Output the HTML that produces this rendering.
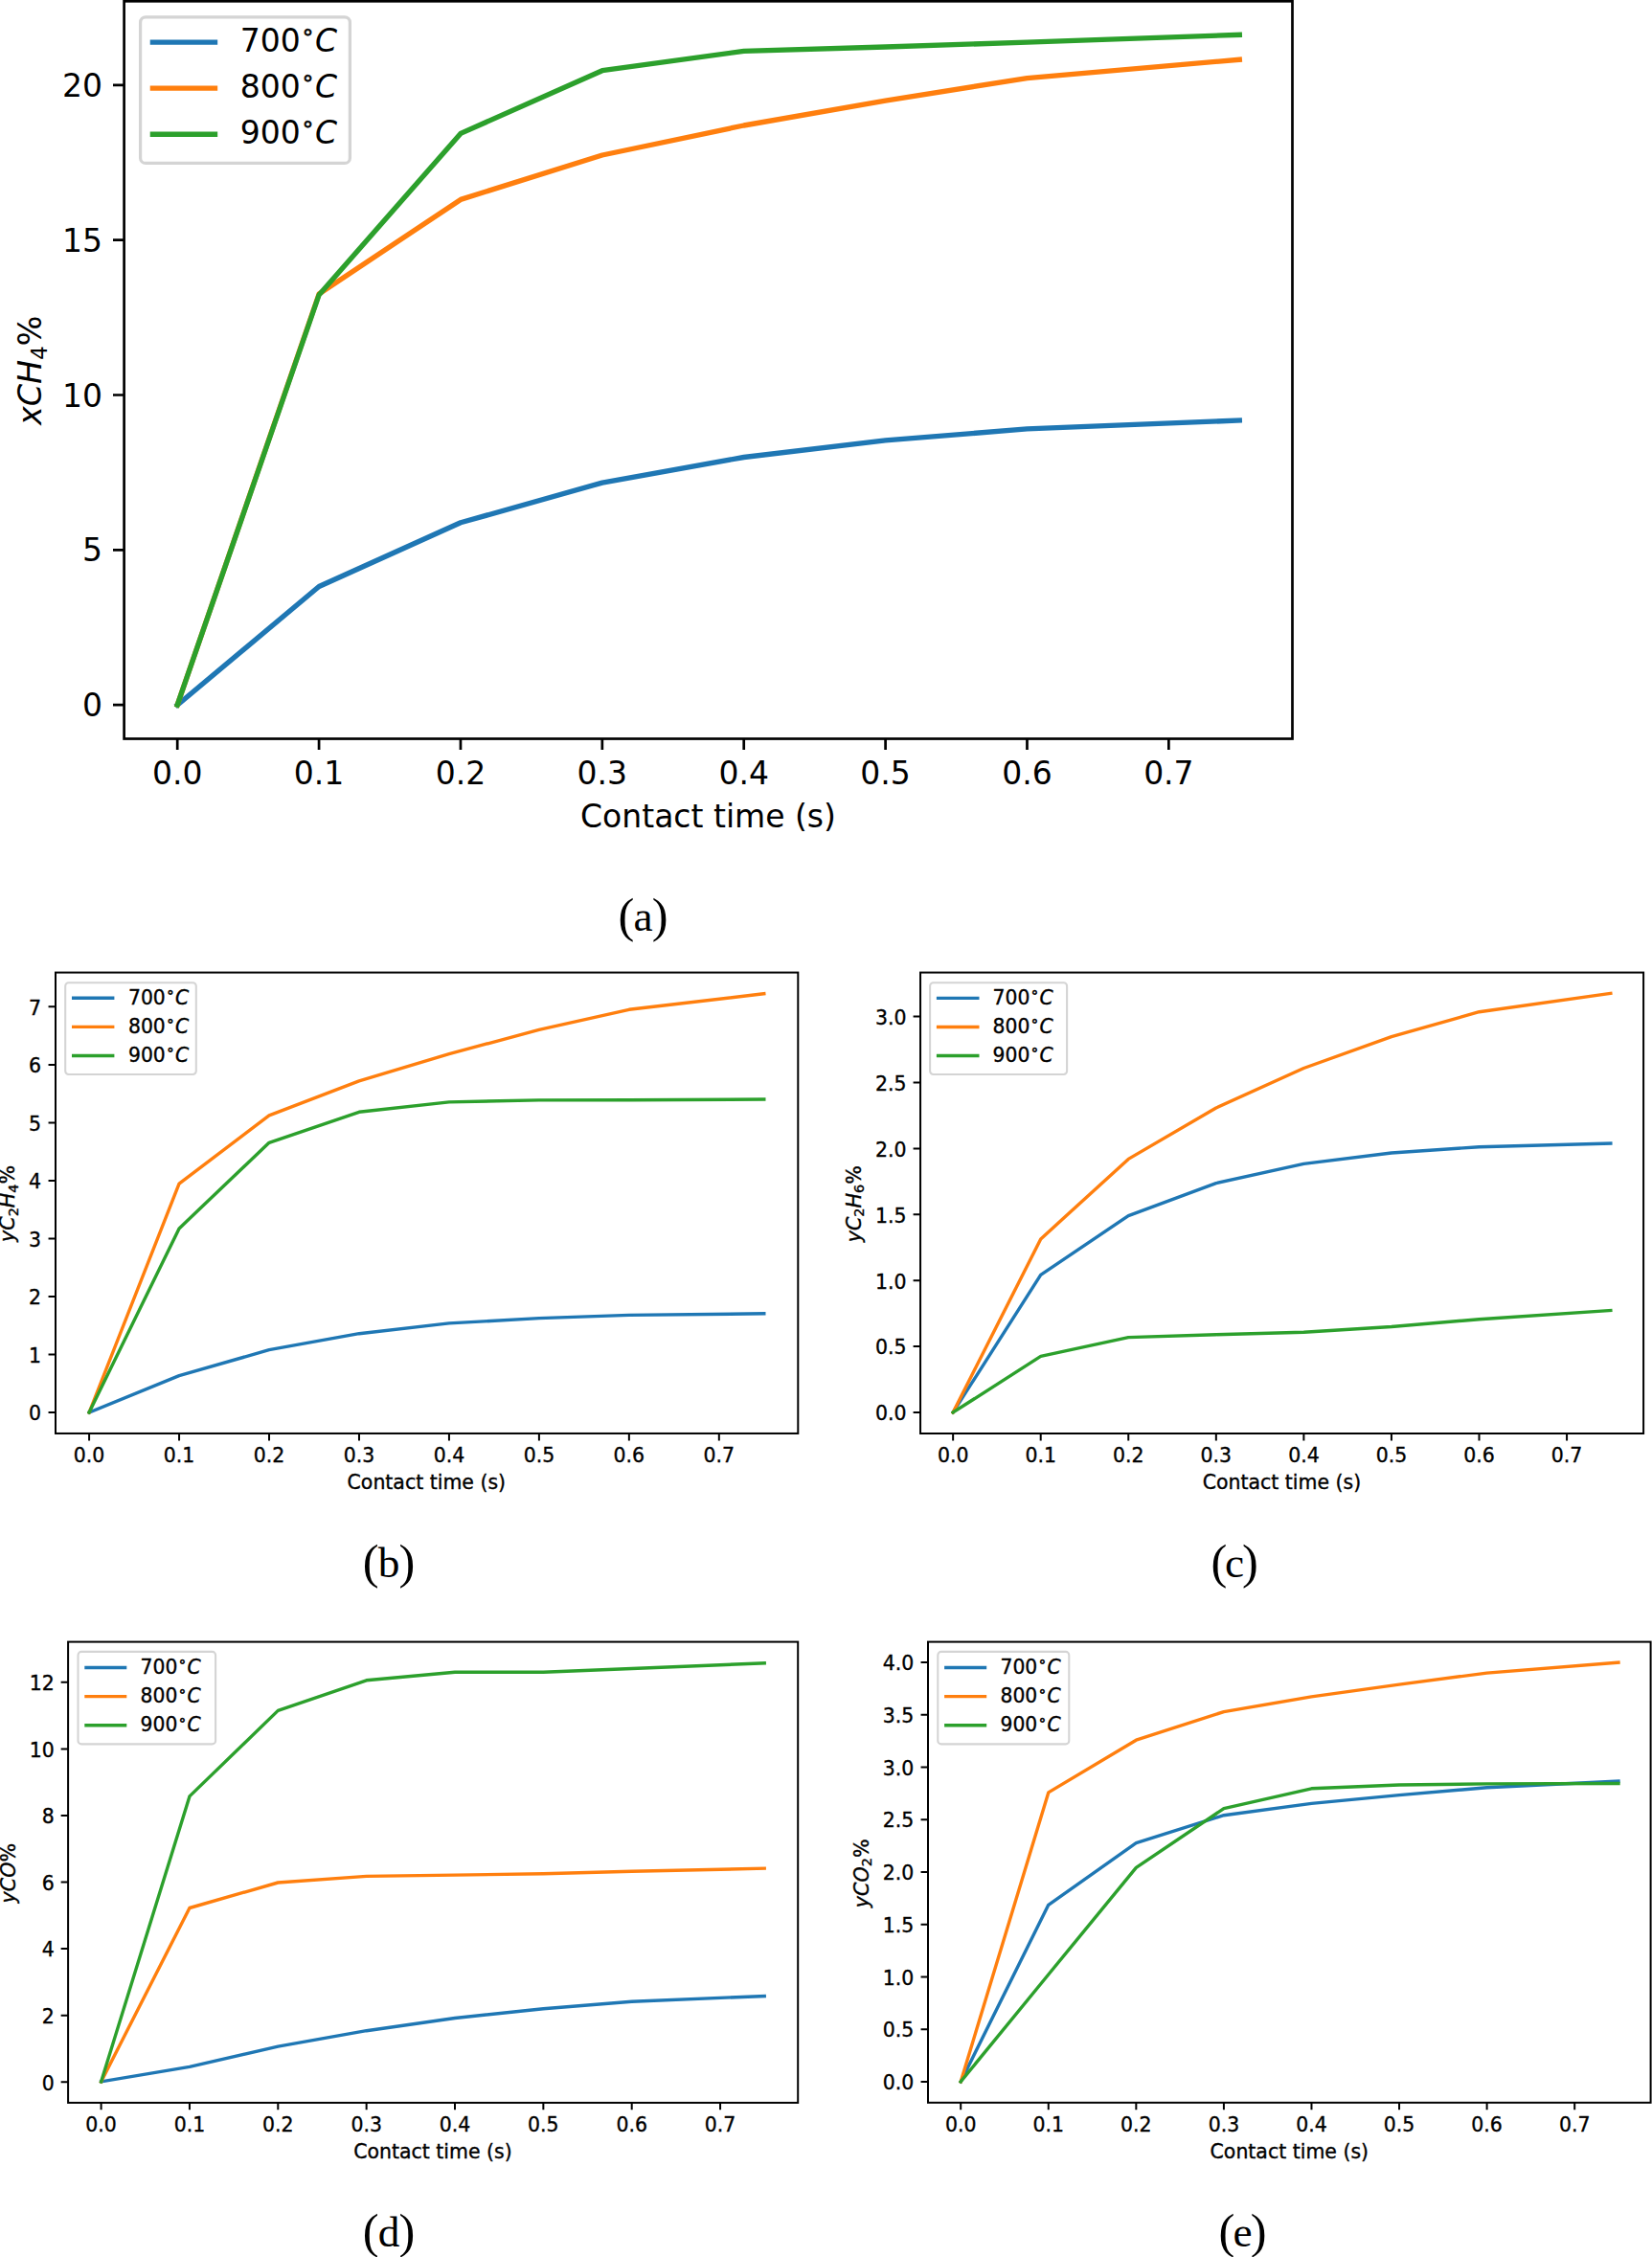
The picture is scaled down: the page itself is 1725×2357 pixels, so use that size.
<!DOCTYPE html>
<html lang="en"><head><meta charset="utf-8"><title>Contact time figures</title>
<style>html,body{margin:0;padding:0;background:#fff;overflow:hidden}svg{display:block}</style></head>
<body><svg width="1725" height="2357" viewBox="0 0 1725 2357">
<rect width="1725" height="2357" fill="#fff"/>
<g font-family="'DejaVu Sans','Liberation Sans',sans-serif" font-size="33" fill="#000">
<polyline points="185.2,736.2 333.08,612.5 480.96,545.8 628.84,504.1 776.72,477.5 924.6,459.9 1072.48,447.9 1294.3,439" fill="none" stroke="#1f77b4" stroke-width="5.35" stroke-linecap="square" stroke-linejoin="round"/>
<polyline points="185.2,736.2 333.08,307 480.96,208.4 628.84,162 776.72,131 924.6,105.1 1072.48,81.6 1294.3,62.2" fill="none" stroke="#ff7f0e" stroke-width="5.35" stroke-linecap="square" stroke-linejoin="round"/>
<polyline points="185.2,736.2 333.08,308 480.96,139.4 628.84,73.7 776.72,53.4 924.6,49 1072.48,44.1 1294.3,36.3" fill="none" stroke="#2ca02c" stroke-width="5.35" stroke-linecap="square" stroke-linejoin="round"/>
<path d="M185.2 771.5 v11.6 M333.08 771.5 v11.6 M480.96 771.5 v11.6 M628.84 771.5 v11.6 M776.72 771.5 v11.6 M924.6 771.5 v11.6 M1072.48 771.5 v11.6 M1220.36 771.5 v11.6 M129.6 736.2 h-11.6 M129.6 574.35 h-11.6 M129.6 412.5 h-11.6 M129.6 250.65 h-11.6 M129.6 88.8 h-11.6" stroke="#000" stroke-width="2.7" fill="none"/>
<rect x="129.6" y="1.3" width="1219.9" height="770.2" fill="none" stroke="#000" stroke-width="2.7"/>
<g text-anchor="middle">
<text transform="translate(185.2 818.5)">0.0</text>
<text transform="translate(333.08 818.5)">0.1</text>
<text transform="translate(480.96 818.5)">0.2</text>
<text transform="translate(628.84 818.5)">0.3</text>
<text transform="translate(776.72 818.5)">0.4</text>
<text transform="translate(924.6 818.5)">0.5</text>
<text transform="translate(1072.48 818.5)">0.6</text>
<text transform="translate(1220.36 818.5)">0.7</text>
</g>
<g text-anchor="end">
<text transform="translate(107 748.2)">0</text>
<text transform="translate(107 586.35)">5</text>
<text transform="translate(107 424.5)">10</text>
<text transform="translate(107 262.65)">15</text>
<text transform="translate(107 100.8)">20</text>
</g>
<text transform="translate(739.5 863.8)" text-anchor="middle">Contact time (s)</text>
<text transform="translate(43.4 386.8) rotate(-90) scale(1.0100 1.0100)" text-anchor="middle"><tspan font-style="oblique">xCH</tspan><tspan font-size="23.1" dy="5.45">4</tspan><tspan dy="-5.45">%</tspan></text>
<rect x="146.6" y="17.9" width="218.8" height="152.5" rx="5.5" fill="#fff" fill-opacity="0.8" stroke="#d4d4d4" stroke-width="3.25"/>
<path d="M159.4 44.1 H224.5" stroke="#1f77b4" stroke-width="5.35" stroke-linecap="square" fill="none"/>
<text transform="translate(250.8 53.7)">700<tspan font-size="23.1" dx="0.49" dy="-13.2" stroke="#000" stroke-width="0.6">&#8728;</tspan><tspan font-style="oblique" dx="0.32" dy="13.2">C</tspan></text>
<path d="M159.4 92.1 H224.5" stroke="#ff7f0e" stroke-width="5.35" stroke-linecap="square" fill="none"/>
<text transform="translate(250.8 101.7)">800<tspan font-size="23.1" dx="0.49" dy="-13.2" stroke="#000" stroke-width="0.6">&#8728;</tspan><tspan font-style="oblique" dx="0.32" dy="13.2">C</tspan></text>
<path d="M159.4 140.2 H224.5" stroke="#2ca02c" stroke-width="5.35" stroke-linecap="square" fill="none"/>
<text transform="translate(250.8 149.8)">900<tspan font-size="23.1" dx="0.49" dy="-13.2" stroke="#000" stroke-width="0.6">&#8728;</tspan><tspan font-style="oblique" dx="0.32" dy="13.2">C</tspan></text>
</g>
<g font-family="'DejaVu Sans','Liberation Sans',sans-serif" font-size="20.3" fill="#000" stroke="#000" stroke-width="0.35">
<polyline points="93.1,1475 187.06,1436.6 281.02,1409.7 374.98,1392.7 468.94,1381.9 562.9,1376.6 656.86,1373.4 797.8,1371.8" fill="none" stroke="#1f77b4" stroke-width="3.4" stroke-linecap="square" stroke-linejoin="round"/>
<polyline points="93.1,1475 187.06,1236.1 281.02,1164.9 374.98,1128.8 468.94,1100.7 562.9,1075.3 656.86,1054.3 797.8,1037.7" fill="none" stroke="#ff7f0e" stroke-width="3.4" stroke-linecap="square" stroke-linejoin="round"/>
<polyline points="93.1,1475 187.06,1282.9 281.02,1193.3 374.98,1161.3 468.94,1150.9 562.9,1148.9 656.86,1148.8 797.8,1148" fill="none" stroke="#2ca02c" stroke-width="3.4" stroke-linecap="square" stroke-linejoin="round"/>
<path d="M93.1 1496.95 v7.45 M187.06 1496.95 v7.45 M281.02 1496.95 v7.45 M374.98 1496.95 v7.45 M468.94 1496.95 v7.45 M562.9 1496.95 v7.45 M656.86 1496.95 v7.45 M750.82 1496.95 v7.45 M58 1475 h-7.45 M58 1414.48 h-7.45 M58 1353.96 h-7.45 M58 1293.44 h-7.45 M58 1232.92 h-7.45 M58 1172.4 h-7.45 M58 1111.88 h-7.45 M58 1051.36 h-7.45" stroke="#000" stroke-width="2" fill="none"/>
<rect x="58" y="1015.6" width="775.3" height="481.35" fill="none" stroke="#000" stroke-width="2"/>
<g text-anchor="middle">
<text transform="translate(93.1 1527.1) scale(1.0080 1.0200)">0.0</text>
<text transform="translate(187.06 1527.1) scale(1.0080 1.0200)">0.1</text>
<text transform="translate(281.02 1527.1) scale(1.0080 1.0200)">0.2</text>
<text transform="translate(374.98 1527.1) scale(1.0080 1.0200)">0.3</text>
<text transform="translate(468.94 1527.1) scale(1.0080 1.0200)">0.4</text>
<text transform="translate(562.9 1527.1) scale(1.0080 1.0200)">0.5</text>
<text transform="translate(656.86 1527.1) scale(1.0080 1.0200)">0.6</text>
<text transform="translate(750.82 1527.1) scale(1.0080 1.0200)">0.7</text>
</g>
<g text-anchor="end">
<text transform="translate(43.05 1483.3) scale(1.0080 1.0200)">0</text>
<text transform="translate(43.05 1422.78) scale(1.0080 1.0200)">1</text>
<text transform="translate(43.05 1362.26) scale(1.0080 1.0200)">2</text>
<text transform="translate(43.05 1301.74) scale(1.0080 1.0200)">3</text>
<text transform="translate(43.05 1241.22) scale(1.0080 1.0200)">4</text>
<text transform="translate(43.05 1180.7) scale(1.0080 1.0200)">5</text>
<text transform="translate(43.05 1120.18) scale(1.0080 1.0200)">6</text>
<text transform="translate(43.05 1059.66) scale(1.0080 1.0200)">7</text>
</g>
<text transform="translate(445.3 1555) scale(1.0080 1.0200)" text-anchor="middle">Contact time (s)</text>
<text transform="translate(15.3 1256.9) rotate(-90) scale(1.0180 1.0200)" text-anchor="middle"><tspan font-style="oblique">yC</tspan><tspan font-size="14.21" dy="3.35">2</tspan><tspan font-style="oblique" dy="-3.35">H</tspan><tspan font-size="14.21" dy="3.35">4</tspan><tspan dy="-3.35">%</tspan></text>
<rect x="68.2" y="1026.2" width="136.6" height="95.8" rx="3.5" fill="#fff" fill-opacity="0.8" stroke="#d4d4d4" stroke-width="2.07"/>
<path d="M76.7 1042.3 H117.7" stroke="#1f77b4" stroke-width="3.4" stroke-linecap="square" fill="none"/>
<text transform="translate(134 1048.5) scale(1.0000 1.0480)">700<tspan font-size="14.21" dx="0.7" dy="-7.1" stroke="#000" stroke-width="0.6">&#8728;</tspan><tspan font-style="oblique" dx="0.69" dy="7.1">C</tspan></text>
<path d="M76.7 1072.4 H117.7" stroke="#ff7f0e" stroke-width="3.4" stroke-linecap="square" fill="none"/>
<text transform="translate(134 1078.6) scale(1.0000 1.0480)">800<tspan font-size="14.21" dx="0.7" dy="-7.1" stroke="#000" stroke-width="0.6">&#8728;</tspan><tspan font-style="oblique" dx="0.69" dy="7.1">C</tspan></text>
<path d="M76.7 1102.5 H117.7" stroke="#2ca02c" stroke-width="3.4" stroke-linecap="square" fill="none"/>
<text transform="translate(134 1108.7) scale(1.0000 1.0480)">900<tspan font-size="14.21" dx="0.7" dy="-7.1" stroke="#000" stroke-width="0.6">&#8728;</tspan><tspan font-style="oblique" dx="0.69" dy="7.1">C</tspan></text>
</g>
<g font-family="'DejaVu Sans','Liberation Sans',sans-serif" font-size="20.3" fill="#000" stroke="#000" stroke-width="0.35">
<polyline points="995.15,1475 1086.71,1331.4 1178.27,1269.6 1269.83,1235.6 1361.39,1215.4 1452.95,1204 1544.51,1197.7 1681.85,1194.1" fill="none" stroke="#1f77b4" stroke-width="3.4" stroke-linecap="square" stroke-linejoin="round"/>
<polyline points="995.15,1475 1086.71,1293.9 1178.27,1210.4 1269.83,1157 1361.39,1115.5 1452.95,1082.6 1544.51,1056.7 1681.85,1037.3" fill="none" stroke="#ff7f0e" stroke-width="3.4" stroke-linecap="square" stroke-linejoin="round"/>
<polyline points="995.15,1475 1086.71,1416.4 1178.27,1396.6 1269.83,1393.7 1361.39,1391.2 1452.95,1385.5 1544.51,1377.7 1681.85,1368.5" fill="none" stroke="#2ca02c" stroke-width="3.4" stroke-linecap="square" stroke-linejoin="round"/>
<path d="M995.15 1497 v7.45 M1086.71 1497 v7.45 M1178.27 1497 v7.45 M1269.83 1497 v7.45 M1361.39 1497 v7.45 M1452.95 1497 v7.45 M1544.51 1497 v7.45 M1636.07 1497 v7.45 M961.05 1475 h-7.45 M961.05 1406.1 h-7.45 M961.05 1337.2 h-7.45 M961.05 1268.3 h-7.45 M961.05 1199.4 h-7.45 M961.05 1130.5 h-7.45 M961.05 1061.6 h-7.45" stroke="#000" stroke-width="2" fill="none"/>
<rect x="961.05" y="1015.6" width="755.05" height="481.4" fill="none" stroke="#000" stroke-width="2"/>
<g text-anchor="middle">
<text transform="translate(995.15 1527.1) scale(1.0080 1.0200)">0.0</text>
<text transform="translate(1086.71 1527.1) scale(1.0080 1.0200)">0.1</text>
<text transform="translate(1178.27 1527.1) scale(1.0080 1.0200)">0.2</text>
<text transform="translate(1269.83 1527.1) scale(1.0080 1.0200)">0.3</text>
<text transform="translate(1361.39 1527.1) scale(1.0080 1.0200)">0.4</text>
<text transform="translate(1452.95 1527.1) scale(1.0080 1.0200)">0.5</text>
<text transform="translate(1544.51 1527.1) scale(1.0080 1.0200)">0.6</text>
<text transform="translate(1636.07 1527.1) scale(1.0080 1.0200)">0.7</text>
</g>
<g text-anchor="end">
<text transform="translate(946.45 1483.3) scale(1.0080 1.0200)">0.0</text>
<text transform="translate(946.45 1414.4) scale(1.0080 1.0200)">0.5</text>
<text transform="translate(946.45 1345.5) scale(1.0080 1.0200)">1.0</text>
<text transform="translate(946.45 1276.6) scale(1.0080 1.0200)">1.5</text>
<text transform="translate(946.45 1207.7) scale(1.0080 1.0200)">2.0</text>
<text transform="translate(946.45 1138.8) scale(1.0080 1.0200)">2.5</text>
<text transform="translate(946.45 1069.9) scale(1.0080 1.0200)">3.0</text>
</g>
<text transform="translate(1338.4 1555) scale(1.0080 1.0200)" text-anchor="middle">Contact time (s)</text>
<text transform="translate(898.5 1257.2) rotate(-90) scale(1.0180 1.0200)" text-anchor="middle"><tspan font-style="oblique">yC</tspan><tspan font-size="14.21" dy="3.35">2</tspan><tspan font-style="oblique" dy="-3.35">H</tspan><tspan font-size="14.21" dy="3.35">6</tspan><tspan dy="-3.35">%</tspan></text>
<rect x="971.1" y="1026.2" width="143" height="95.8" rx="3.5" fill="#fff" fill-opacity="0.8" stroke="#d4d4d4" stroke-width="2.07"/>
<path d="M979.6 1042.4 H1020.8" stroke="#1f77b4" stroke-width="3.4" stroke-linecap="square" fill="none"/>
<text transform="translate(1036.6 1048.6) scale(1.0000 1.0480)">700<tspan font-size="14.21" dx="0.7" dy="-7.1" stroke="#000" stroke-width="0.6">&#8728;</tspan><tspan font-style="oblique" dx="0.69" dy="7.1">C</tspan></text>
<path d="M979.6 1072.5 H1020.8" stroke="#ff7f0e" stroke-width="3.4" stroke-linecap="square" fill="none"/>
<text transform="translate(1036.6 1078.7) scale(1.0000 1.0480)">800<tspan font-size="14.21" dx="0.7" dy="-7.1" stroke="#000" stroke-width="0.6">&#8728;</tspan><tspan font-style="oblique" dx="0.69" dy="7.1">C</tspan></text>
<path d="M979.6 1102.5 H1020.8" stroke="#2ca02c" stroke-width="3.4" stroke-linecap="square" fill="none"/>
<text transform="translate(1036.6 1108.7) scale(1.0000 1.0480)">900<tspan font-size="14.21" dx="0.7" dy="-7.1" stroke="#000" stroke-width="0.6">&#8728;</tspan><tspan font-style="oblique" dx="0.69" dy="7.1">C</tspan></text>
</g>
<g font-family="'DejaVu Sans','Liberation Sans',sans-serif" font-size="20.3" fill="#000" stroke="#000" stroke-width="0.35">
<polyline points="105.6,2173.9 197.95,2158.4 290.3,2137.1 382.65,2120.7 475,2107.5 567.35,2097.7 659.7,2090.2 798.23,2084.5" fill="none" stroke="#1f77b4" stroke-width="3.4" stroke-linecap="square" stroke-linejoin="round"/>
<polyline points="105.6,2173.9 197.95,1992.5 290.3,1966 382.65,1959.4 475,1958.1 567.35,1956.8 659.7,1954.3 798.23,1951.2" fill="none" stroke="#ff7f0e" stroke-width="3.4" stroke-linecap="square" stroke-linejoin="round"/>
<polyline points="105.6,2173.9 197.95,1875.9 290.3,1786.4 382.65,1754.8 475,1746.3 567.35,1746.3 659.7,1742.5 798.23,1736.8" fill="none" stroke="#2ca02c" stroke-width="3.4" stroke-linecap="square" stroke-linejoin="round"/>
<path d="M105.6 2195.9 v7.45 M197.95 2195.9 v7.45 M290.3 2195.9 v7.45 M382.65 2195.9 v7.45 M475 2195.9 v7.45 M567.35 2195.9 v7.45 M659.7 2195.9 v7.45 M752.05 2195.9 v7.45 M71.1 2174.2 h-7.45 M71.1 2104.64 h-7.45 M71.1 2035.08 h-7.45 M71.1 1965.52 h-7.45 M71.1 1895.96 h-7.45 M71.1 1826.4 h-7.45 M71.1 1756.84 h-7.45" stroke="#000" stroke-width="2" fill="none"/>
<rect x="71.1" y="1714.6" width="762.1" height="481.3" fill="none" stroke="#000" stroke-width="2"/>
<g text-anchor="middle">
<text transform="translate(105.6 2225.9) scale(1.0080 1.0200)">0.0</text>
<text transform="translate(197.95 2225.9) scale(1.0080 1.0200)">0.1</text>
<text transform="translate(290.3 2225.9) scale(1.0080 1.0200)">0.2</text>
<text transform="translate(382.65 2225.9) scale(1.0080 1.0200)">0.3</text>
<text transform="translate(475 2225.9) scale(1.0080 1.0200)">0.4</text>
<text transform="translate(567.35 2225.9) scale(1.0080 1.0200)">0.5</text>
<text transform="translate(659.7 2225.9) scale(1.0080 1.0200)">0.6</text>
<text transform="translate(752.05 2225.9) scale(1.0080 1.0200)">0.7</text>
</g>
<g text-anchor="end">
<text transform="translate(56.75 2182.5) scale(1.0080 1.0200)">0</text>
<text transform="translate(56.75 2112.94) scale(1.0080 1.0200)">2</text>
<text transform="translate(56.75 2043.38) scale(1.0080 1.0200)">4</text>
<text transform="translate(56.75 1973.82) scale(1.0080 1.0200)">6</text>
<text transform="translate(56.75 1904.26) scale(1.0080 1.0200)">8</text>
<text transform="translate(56.75 1834.7) scale(1.0080 1.0200)">10</text>
<text transform="translate(56.75 1765.14) scale(1.0080 1.0200)">12</text>
</g>
<text transform="translate(451.9 2253.8) scale(1.0080 1.0200)" text-anchor="middle">Contact time (s)</text>
<text transform="translate(15.5 1956.2) rotate(-90) scale(1.0180 1.0200)" text-anchor="middle"><tspan font-style="oblique">yCO</tspan><tspan>%</tspan></text>
<rect x="81.5" y="1724.9" width="143.6" height="96.5" rx="3.5" fill="#fff" fill-opacity="0.8" stroke="#d4d4d4" stroke-width="2.07"/>
<path d="M90 1741.5 H130.6" stroke="#1f77b4" stroke-width="3.4" stroke-linecap="square" fill="none"/>
<text transform="translate(146.6 1747.9) scale(1.0000 1.0480)">700<tspan font-size="14.21" dx="0.7" dy="-7.1" stroke="#000" stroke-width="0.6">&#8728;</tspan><tspan font-style="oblique" dx="0.69" dy="7.1">C</tspan></text>
<path d="M90 1771.6 H130.6" stroke="#ff7f0e" stroke-width="3.4" stroke-linecap="square" fill="none"/>
<text transform="translate(146.6 1778) scale(1.0000 1.0480)">800<tspan font-size="14.21" dx="0.7" dy="-7.1" stroke="#000" stroke-width="0.6">&#8728;</tspan><tspan font-style="oblique" dx="0.69" dy="7.1">C</tspan></text>
<path d="M90 1801.7 H130.6" stroke="#2ca02c" stroke-width="3.4" stroke-linecap="square" fill="none"/>
<text transform="translate(146.6 1808.1) scale(1.0000 1.0480)">900<tspan font-size="14.21" dx="0.7" dy="-7.1" stroke="#000" stroke-width="0.6">&#8728;</tspan><tspan font-style="oblique" dx="0.69" dy="7.1">C</tspan></text>
</g>
<g font-family="'DejaVu Sans','Liberation Sans',sans-serif" font-size="20.3" fill="#000" stroke="#000" stroke-width="0.35">
<polyline points="1003.2,2173.9 1094.77,1989.3 1186.34,1924.6 1277.91,1895.7 1369.48,1883.4 1461.05,1874.6 1552.62,1866.8 1689.98,1860.1" fill="none" stroke="#1f77b4" stroke-width="3.4" stroke-linecap="square" stroke-linejoin="round"/>
<polyline points="1003.2,2173.9 1094.77,1871.9 1186.34,1817.2 1277.91,1787.6 1369.48,1771.9 1461.05,1759.1 1552.62,1747.1 1689.98,1736.1" fill="none" stroke="#ff7f0e" stroke-width="3.4" stroke-linecap="square" stroke-linejoin="round"/>
<polyline points="1003.2,2173.9 1094.77,2062 1186.34,1950.3 1277.91,1888.6 1369.48,1867.8 1461.05,1864 1552.62,1862.9 1689.98,1862.5" fill="none" stroke="#2ca02c" stroke-width="3.4" stroke-linecap="square" stroke-linejoin="round"/>
<path d="M1003.2 2195.8 v7.45 M1094.77 2195.8 v7.45 M1186.34 2195.8 v7.45 M1277.91 2195.8 v7.45 M1369.48 2195.8 v7.45 M1461.05 2195.8 v7.45 M1552.62 2195.8 v7.45 M1644.19 2195.8 v7.45 M969 2173.9 h-7.45 M969 2119.15 h-7.45 M969 2064.4 h-7.45 M969 2009.65 h-7.45 M969 1954.9 h-7.45 M969 1900.15 h-7.45 M969 1845.4 h-7.45 M969 1790.65 h-7.45 M969 1735.9 h-7.45" stroke="#000" stroke-width="2" fill="none"/>
<rect x="969" y="1714.6" width="754.6" height="481.2" fill="none" stroke="#000" stroke-width="2"/>
<g text-anchor="middle">
<text transform="translate(1003.2 2225.9) scale(1.0080 1.0200)">0.0</text>
<text transform="translate(1094.77 2225.9) scale(1.0080 1.0200)">0.1</text>
<text transform="translate(1186.34 2225.9) scale(1.0080 1.0200)">0.2</text>
<text transform="translate(1277.91 2225.9) scale(1.0080 1.0200)">0.3</text>
<text transform="translate(1369.48 2225.9) scale(1.0080 1.0200)">0.4</text>
<text transform="translate(1461.05 2225.9) scale(1.0080 1.0200)">0.5</text>
<text transform="translate(1552.62 2225.9) scale(1.0080 1.0200)">0.6</text>
<text transform="translate(1644.19 2225.9) scale(1.0080 1.0200)">0.7</text>
</g>
<g text-anchor="end">
<text transform="translate(954.25 2182.2) scale(1.0080 1.0200)">0.0</text>
<text transform="translate(954.25 2127.45) scale(1.0080 1.0200)">0.5</text>
<text transform="translate(954.25 2072.7) scale(1.0080 1.0200)">1.0</text>
<text transform="translate(954.25 2017.95) scale(1.0080 1.0200)">1.5</text>
<text transform="translate(954.25 1963.2) scale(1.0080 1.0200)">2.0</text>
<text transform="translate(954.25 1908.45) scale(1.0080 1.0200)">2.5</text>
<text transform="translate(954.25 1853.7) scale(1.0080 1.0200)">3.0</text>
<text transform="translate(954.25 1798.95) scale(1.0080 1.0200)">3.5</text>
<text transform="translate(954.25 1744.2) scale(1.0080 1.0200)">4.0</text>
</g>
<text transform="translate(1346.3 2253.8) scale(1.0080 1.0200)" text-anchor="middle">Contact time (s)</text>
<text transform="translate(906.5 1956.3) rotate(-90) scale(1.0180 1.0200)" text-anchor="middle"><tspan font-style="oblique">yCO</tspan><tspan font-size="14.21" dy="3.35">2</tspan><tspan dy="-3.35">%</tspan></text>
<rect x="979.3" y="1724.9" width="137" height="96.5" rx="3.5" fill="#fff" fill-opacity="0.8" stroke="#d4d4d4" stroke-width="2.07"/>
<path d="M987.8 1741.5 H1028.5" stroke="#1f77b4" stroke-width="3.4" stroke-linecap="square" fill="none"/>
<text transform="translate(1044.5 1747.9) scale(1.0000 1.0480)">700<tspan font-size="14.21" dx="0.7" dy="-7.1" stroke="#000" stroke-width="0.6">&#8728;</tspan><tspan font-style="oblique" dx="0.69" dy="7.1">C</tspan></text>
<path d="M987.8 1771.6 H1028.5" stroke="#ff7f0e" stroke-width="3.4" stroke-linecap="square" fill="none"/>
<text transform="translate(1044.5 1778) scale(1.0000 1.0480)">800<tspan font-size="14.21" dx="0.7" dy="-7.1" stroke="#000" stroke-width="0.6">&#8728;</tspan><tspan font-style="oblique" dx="0.69" dy="7.1">C</tspan></text>
<path d="M987.8 1801.7 H1028.5" stroke="#2ca02c" stroke-width="3.4" stroke-linecap="square" fill="none"/>
<text transform="translate(1044.5 1808.1) scale(1.0000 1.0480)">900<tspan font-size="14.21" dx="0.7" dy="-7.1" stroke="#000" stroke-width="0.6">&#8728;</tspan><tspan font-style="oblique" dx="0.69" dy="7.1">C</tspan></text>
</g>
<g font-family="'Liberation Serif','DejaVu Serif',serif" font-size="45.3" fill="#000" text-anchor="middle">
<text x="671.6" y="972"><tspan font-size="50.5" dy="0.6">(</tspan><tspan dx="-0.9" dy="-0.6">a</tspan><tspan font-size="50.5" dx="-0.9" dy="0.6">)</tspan></text>
<text x="406" y="1647.2"><tspan font-size="50.5" dy="0.6">(</tspan><tspan dx="-0.9" dy="-0.6">b</tspan><tspan font-size="50.5" dx="-0.9" dy="0.6">)</tspan></text>
<text x="1289.1" y="1647.2"><tspan font-size="50.5" dy="0.6">(</tspan><tspan dx="-2.2" dy="-0.6">c</tspan><tspan font-size="50.5" dx="-2.2" dy="0.6">)</tspan></text>
<text x="406" y="2346.2"><tspan font-size="50.5" dy="0.6">(</tspan><tspan dx="-0.9" dy="-0.6">d</tspan><tspan font-size="50.5" dx="-0.9" dy="0.6">)</tspan></text>
<text x="1297.6" y="2346.2"><tspan font-size="50.5" dy="0.6">(</tspan><tspan dx="-1.9" dy="-0.6">e</tspan><tspan font-size="50.5" dx="-1.9" dy="0.6">)</tspan></text>
</g>
</svg></body></html>
